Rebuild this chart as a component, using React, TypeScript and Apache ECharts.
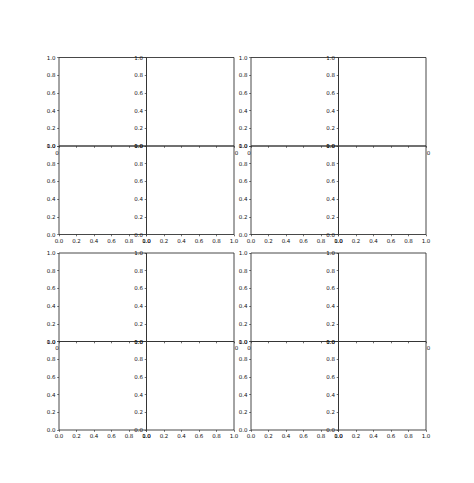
import React, { useEffect, useRef } from "react";
import * as echarts from "echarts";

// tick values shared by every panel's x and y axis
const TICK_VALUES = [0, 0.2, 0.4, 0.6, 0.8, 1.0];
// stray "0" labels matplotlib leaves under each top row
const STRAY_LABELS = ["0", "0"];
// subfigure grid: 2x2 subfigures, each with a 2x2 block of axes (no spacing)
const SUBFIG_LEFT = [59, 251];
const SUBFIG_TOP = [57.5, 253];
const SUBFIG_W = 175;
const SUBFIG_H = 177;

const FONT = "DejaVu Sans";
const INK = "#111";
const SPINE = "#333";
const FS = 5.5;

export default function App() {
  const ref = useRef<HTMLDivElement | null>(null);

  useEffect(() => {
    document.body.style.margin = "0";
    if (!ref.current) return;
    const chart = echarts.init(ref.current, undefined, { renderer: "svg" });

    const grids: any[] = [];
    const xAxes: any[] = [];
    const yAxes: any[] = [];
    const series: any[] = [];
    const graphic: any[] = [];
    const lo = TICK_VALUES[0];
    const hi = TICK_VALUES[TICK_VALUES.length - 1];
    const step = TICK_VALUES[1] - TICK_VALUES[0];

    const axisBase = (showLabel: boolean) => ({
      type: "value",
      min: lo,
      max: hi,
      interval: step,
      axisLine: { show: false },
      axisTick: { show: true, length: 1.8, lineStyle: { color: SPINE, width: 0.7 } },
      splitLine: { show: false },
      axisLabel: {
        show: showLabel,
        fontSize: FS,
        fontFamily: FONT,
        color: INK,
        margin: 3.4,
        formatter: (v: number) => v.toFixed(1),
      },
    });

    for (let r = 0; r < 2; r++) {
      for (let c = 0; c < 2; c++) {
        const left0 = SUBFIG_LEFT[c];
        const top0 = SUBFIG_TOP[r];
        for (let i = 0; i < 2; i++) {
          for (let j = 0; j < 2; j++) {
            const idx = grids.length;
            grids.push({
              left: left0 + (j * SUBFIG_W) / 2,
              top: top0 + (i * SUBFIG_H) / 2,
              width: SUBFIG_W / 2,
              height: SUBFIG_H / 2,
              show: true,
              backgroundColor: "transparent",
              borderColor: SPINE,
              borderWidth: 0.9,
            });
            xAxes.push({ ...axisBase(i === 1), gridIndex: idx, position: "bottom" });
            yAxes.push({ ...axisBase(true), gridIndex: idx, position: "left" });
            series.push({ type: "line", xAxisIndex: idx, yAxisIndex: idx, data: [] });
          }
        }
        const ty = top0 + SUBFIG_H / 2 + 6.5;
        const style = { fontSize: FS, fontFamily: FONT, fill: INK, align: "center", verticalAlign: "middle" };
        graphic.push({ type: "text", x: left0 - 2, y: ty, style: { ...style, text: STRAY_LABELS[0] } });
        graphic.push({ type: "text", x: left0 + SUBFIG_W + 2.5, y: ty, style: { ...style, text: STRAY_LABELS[1] } });
      }
    }

    chart.setOption({
      animation: false,
      backgroundColor: "#fff",
      grid: grids,
      xAxis: xAxes,
      yAxis: yAxes,
      series,
      graphic,
    });

    return () => chart.dispose();
  }, []);

  return <div ref={ref} style={{ position: "absolute", left: 0, top: 0, width: 474, height: 483 }} />;
}
